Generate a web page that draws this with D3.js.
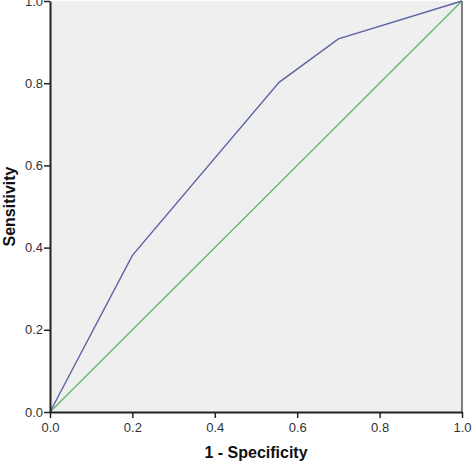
<!DOCTYPE html>
<html>
<head>
<meta charset="utf-8">
<script src="https://cdn.jsdelivr.net/npm/d3@7"></script>
<style>
  html, body { margin: 0; padding: 0; background: #fff; }
  svg { display: block; }
</style>
</head>
<body>
<div id="chart"></div>
<script>
// ROC curve data
const fpr = [0, 0.2, 0.556, 0.70, 1.0];
const tpr = [0, 0.381, 0.802, 0.908, 1.0];
const refLine = [0, 1];
const tickValues = [0, 0.2, 0.4, 0.6, 0.8, 1.0];
const xTitle = '1 - Specificity';
const yTitle = 'Sensitivity';

const width = 474, height = 474;
const margin = { top: 1, right: 12, bottom: 62, left: 50 };

const svg = d3.select('#chart').append('svg')
    .attr('width', width)
    .attr('height', height);

const innerW = width - margin.left - margin.right;
const innerH = height - margin.top - margin.bottom;

const x = d3.scaleLinear().domain([0, 1]).range([margin.left, margin.left + innerW]);
const y = d3.scaleLinear().domain([0, 1]).range([margin.top + innerH, margin.top]);

// fond gris
svg.append('rect')
    .attr('x', x(0))
    .attr('y', y(1))
    .attr('width', x(1) - x(0))
    .attr('height', y(0) - y(1))
    .attr('fill', '#efefef');

// bordure droite
svg.append('line')
    .attr('x1', x(1)).attr('x2', x(1))
    .attr('y1', y(1)).attr('y2', y(0))
    .attr('stroke', '#555').attr('stroke-width', 1.5);

// diagonale de référence
svg.append('line')
    .attr('x1', x(refLine[0])).attr('y1', y(refLine[0]))
    .attr('x2', x(refLine[1])).attr('y2', y(refLine[1]))
    .attr('stroke', '#5fb865')
    .attr('stroke-width', 1.3);

// courbe ROC
const line = d3.line()
    .x((d, i) => x(fpr[i]))
    .y((d, i) => y(tpr[i]));

svg.append('path')
    .datum(fpr)
    .attr('d', line)
    .attr('fill', 'none')
    .attr('stroke', '#5b64a4')
    .attr('stroke-width', 1.4);

// axes
const xAxis = d3.axisBottom(x)
    .tickValues(tickValues)
    .tickFormat(d3.format('.1f'))
    .tickSize(6)
    .tickSizeOuter(0);

const yAxis = d3.axisLeft(y)
    .tickValues(tickValues)
    .tickFormat(d3.format('.1f'))
    .tickSize(6)
    .tickSizeOuter(0);

const gx = svg.append('g')
    .attr('transform', `translate(0, ${y(0)})`)
    .call(xAxis);

const gy = svg.append('g')
    .attr('transform', `translate(${x(0)}, 0)`)
    .call(yAxis);

[gx, gy].forEach(g => {
    g.select('.domain').attr('stroke', '#222').attr('stroke-width', 2);
    g.selectAll('.tick line').attr('stroke', '#222').attr('stroke-width', 1.5);
    g.selectAll('.tick text')
        .attr('fill', '#333')
        .attr('font-family', 'Liberation Sans, Arial, sans-serif')
        .attr('font-size', '13px');
});

gx.selectAll('.tick text').attr('y', 11);
gy.selectAll('.tick text').attr('x', -7);

// titres des axes
svg.append('text')
    .attr('x', x(0.5))
    .attr('y', 458)
    .attr('text-anchor', 'middle')
    .attr('font-family', 'Liberation Sans, Arial, sans-serif')
    .attr('font-weight', 'bold')
    .attr('font-size', '16px')
    .attr('fill', '#111')
    .text(xTitle);

svg.append('text')
    .attr('transform', `translate(15, ${y(0.5)}) rotate(-90)`)
    .attr('text-anchor', 'middle')
    .attr('font-family', 'Liberation Sans, Arial, sans-serif')
    .attr('font-weight', 'bold')
    .attr('font-size', '16px')
    .attr('fill', '#111')
    .text(yTitle);
</script>
</body>
</html>
